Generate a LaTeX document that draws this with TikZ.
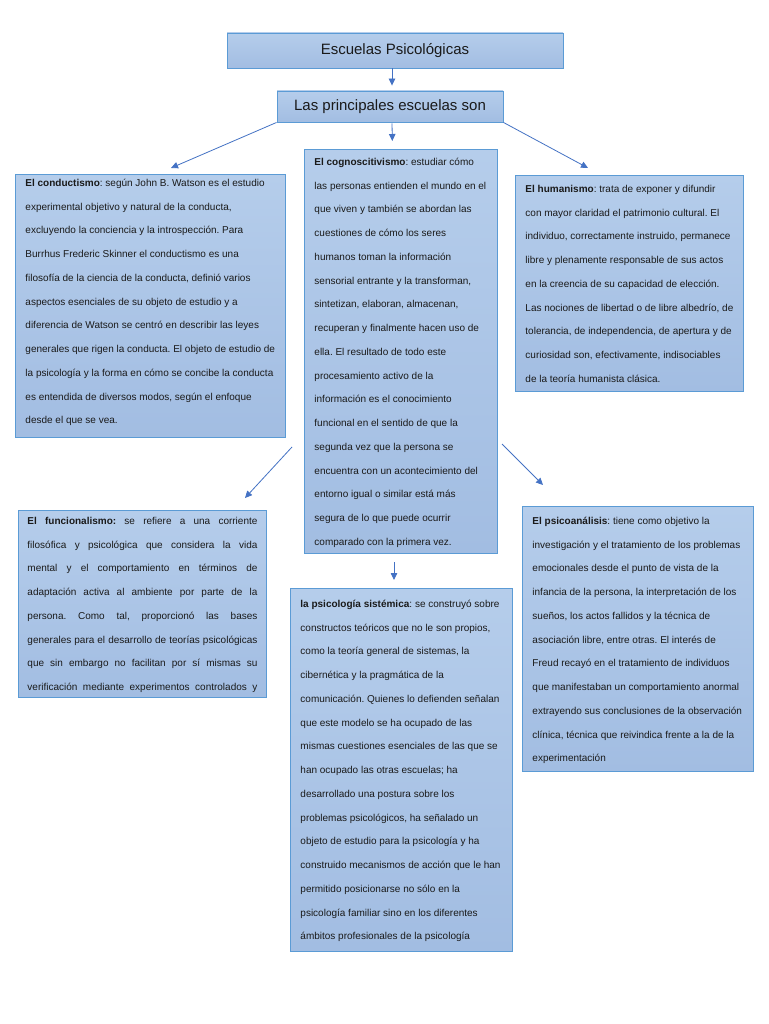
\documentclass[tikz,border=0pt]{standalone}
\usepackage{fontspec}
\setmainfont{Liberation Sans}
\usetikzlibrary{arrows.meta}
\definecolor{bord}{HTML}{5B9BD5}
\definecolor{ftop}{HTML}{B5CDEB}
\definecolor{fbot}{HTML}{A2BDE2}
\definecolor{arr}{HTML}{4472C4}
\definecolor{txt}{HTML}{1A1A1A}
\newcommand{\bline}[1]{\mbox{#1}\par}
\newcommand{\jline}[1]{\makebox[\linewidth][s]{#1}\par}
\frenchspacing
\begin{document}
\frenchspacing
\begin{tikzpicture}[x=1pt,y=-1pt,
  box/.style={draw=bord, line width=0.9pt, top color=ftop, bottom color=fbot,
    anchor=north west, inner ysep=0pt, inner xsep=10pt, text=txt,
    font=\fontsize{10}{23.75}\selectfont\frenchspacing},
  head/.style={draw=bord, line width=0.9pt, top color=ftop, bottom color=fbot,
    text=txt, font=\fontsize{15}{18}\selectfont, inner sep=0pt},
  con/.style={draw=arr, line width=0.8pt, -{Triangle[length=7pt,width=6.5pt]}}]
\useasboundingbox[fill=white] (0,0) rectangle (768,1024);

\node[head, minimum width=336pt, minimum height=35pt] (title) at (395,50.5) {Escuelas Psicológicas};
\node[head, minimum width=226pt, minimum height=31pt] (sub) at (390,106.5) {Las principales escuelas son};

\node[box] (cond) at (15,174) {\parbox[c][263pt][t]{250pt}{%
\bline{\rule{0pt}{12pt}\textbf{El conductismo}: según John B. Watson es el estudio}
\bline{experimental objetivo y natural de la conducta,}
\bline{excluyendo la conciencia y la introspección. Para}
\bline{Burrhus Frederic Skinner el conductismo es una}
\bline{filosofía de la ciencia de la conducta, definió varios}
\bline{aspectos esenciales de su objeto de estudio y a}
\bline{diferencia de Watson se centró en describir las leyes}
\bline{generales que rigen la conducta. El objeto de estudio de}
\bline{la psicología y la forma en cómo se concibe la conducta}
\bline{es entendida de diversos modos, según el enfoque}
\bline{desde el que se vea.}}};

\node[box] (cogn) at (304,149) {\parbox[c][404pt][t]{173pt}{%
\bline{\rule{0pt}{16pt}\textbf{El cognoscitivismo}: estudiar cómo}
\bline{las personas entienden el mundo en el}
\bline{que viven y también se abordan las}
\bline{cuestiones de cómo los seres}
\bline{humanos toman la información}
\bline{sensorial entrante y la transforman,}
\bline{sintetizan, elaboran, almacenan,}
\bline{recuperan y finalmente hacen uso de}
\bline{ella. El resultado de todo este}
\bline{procesamiento activo de la}
\bline{información es el conocimiento}
\bline{funcional en el sentido de que la}
\bline{segunda vez que la persona se}
\bline{encuentra con un acontecimiento del}
\bline{entorno igual o similar está más}
\bline{segura de lo que puede ocurrir}
\bline{comparado con la primera vez.}}};

\node[box] (hum) at (515,175) {\parbox[c][216pt][t]{208pt}{%
\bline{\rule{0pt}{17pt}\textbf{El humanismo}: trata de exponer y difundir}
\bline{con mayor claridad el patrimonio cultural. El}
\bline{individuo, correctamente instruido, permanece}
\bline{libre y plenamente responsable de sus actos}
\bline{en la creencia de su capacidad de elección.}
\bline{Las nociones de libertad o de libre albedrío, de}
\bline{tolerancia, de independencia, de apertura y de}
\bline{curiosidad son, efectivamente, indisociables}
\bline{de la teoría humanista clásica.}}};

\node[box, inner xsep=9pt] (func) at (18,510) {\parbox[c][187pt][t]{230pt}{%
\jline{\rule{0pt}{14pt}\textbf{El funcionalismo:} se refiere a una corriente}
\jline{filosófica y psicológica que considera la vida}
\jline{mental y el comportamiento en términos de}
\jline{adaptación activa al ambiente por parte de la}
\jline{persona. Como tal, proporcionó las bases}
\jline{generales para el desarrollo de teorías psicológicas}
\jline{que sin embargo no facilitan por sí mismas su}
\jline{verificación mediante experimentos controlados y}}};

\node[box] (sist) at (290,588) {\parbox[c][363pt][t]{202pt}{%
\bline{\rule{0pt}{19pt}\textbf{la psicología sistémica}: se construyó sobre}
\bline{constructos teóricos que no le son propios,}
\bline{como la teoría general de sistemas, la}
\bline{cibernética y la pragmática de la}
\bline{comunicación. Quienes lo defienden señalan}
\bline{que este modelo se ha ocupado de las}
\bline{mismas cuestiones esenciales de las que se}
\bline{han ocupado las otras escuelas; ha}
\bline{desarrollado una postura sobre los}
\bline{problemas psicológicos, ha señalado un}
\bline{objeto de estudio para la psicología y ha}
\bline{construido mecanismos de acción que le han}
\bline{permitido posicionarse no sólo en la}
\bline{psicología familiar sino en los diferentes}
\bline{ámbitos profesionales de la psicología}}};

\node[box] (psic) at (522,506) {\parbox[c][265pt][t]{211pt}{%
\bline{\rule{0pt}{18pt}\textbf{El psicoanálisis}: tiene como objetivo la}
\bline{investigación y el tratamiento de los problemas}
\bline{emocionales desde el punto de vista de la}
\bline{infancia de la persona, la interpretación de los}
\bline{sueños, los actos fallidos y la técnica de}
\bline{asociación libre, entre otras. El interés de}
\bline{Freud recayó en el tratamiento de individuos}
\bline{que manifestaban un comportamiento anormal}
\bline{extrayendo sus conclusiones de la observación}
\bline{clínica, técnica que reivindica frente a la de la}
\bline{experimentación}}};

% connectors
\draw[con, shorten >=5pt] ([xshift=-3pt]title.south) -- ([xshift=2pt]sub.north);
\draw[con, shorten <=1pt, shorten >=8pt] ([xshift=2pt]sub.south) -- ([xshift=-8.5pt]cogn.north);
\coordinate (e1) at (171,168);
\coordinate (e2) at (588,168);
\draw[con] (sub.south west) -- (e1);
\draw[con] (sub.south east) -- (e2);
\coordinate (s3) at (292,447);
\coordinate (e3) at (245,498);
\coordinate (s4) at (502,444);
\coordinate (e4) at (543,485);
\coordinate (s5) at (394,562);
\coordinate (e5) at (394,580);
\draw[con] (s3) -- (e3);
\draw[con] (s4) -- (e4);
\draw[con] (s5) -- (e5);
\end{tikzpicture}
\end{document}
